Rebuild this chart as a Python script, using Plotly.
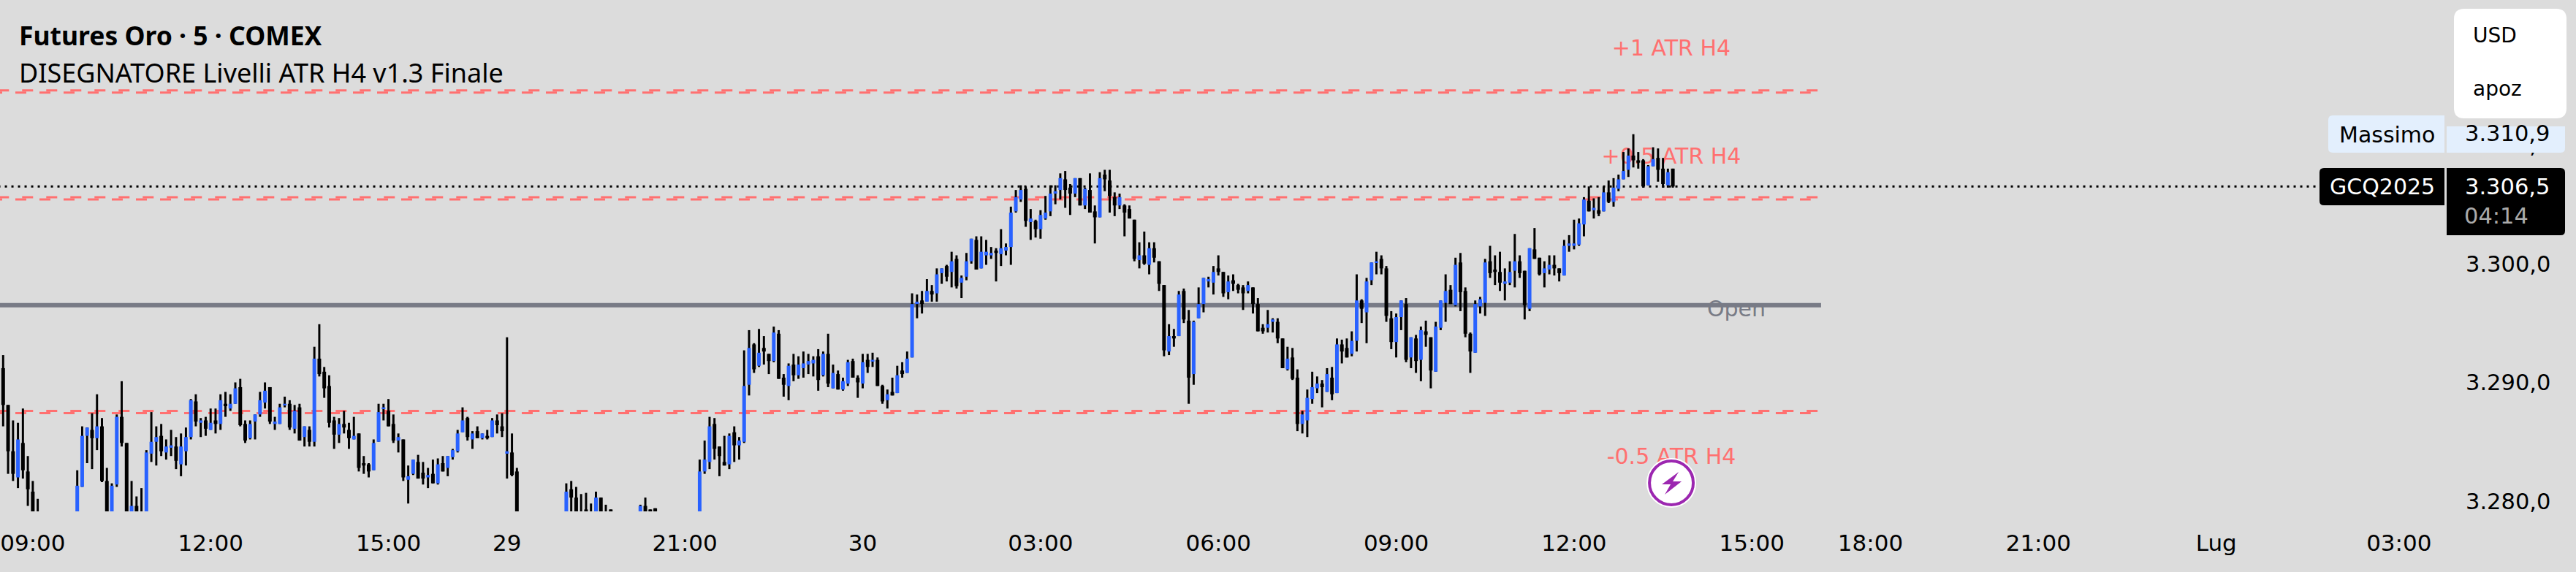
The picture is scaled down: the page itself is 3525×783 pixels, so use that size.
import numpy as np
import plotly.graph_objects as go

NA = None

# 5 min bars, GCQ2025. NA = bar sits below the visible range
bar_high = [
    3292.3,3288.1,3286.8,3286.6,3287.8,3283.8,3281.7,3280.2,NA,NA,
    NA,NA,NA,NA,NA,3282.6,3286.3,3286.2,3287.4,3289.0,
    3287.0,3282.8,3281.5,3287.3,3290.1,3284.9,3281.7,3280.4,3281.1,3284.3,
    3287.5,3286.3,3286.5,3285.2,3286.0,3285.4,3285.7,3286.2,3288.6,3289.0,
    3287.0,3287.1,3287.8,3287.8,3289.0,3289.2,3289.0,3290.0,3290.3,3286.8,
    3286.8,3287.3,3289.2,3290.0,3289.6,3287.1,3288.2,3288.8,3288.5,3288.1,
    3288.2,3286.3,3286.3,3293.0,3294.9,3291.3,3290.6,3287.1,3287.0,3287.6,
    3286.6,3287.1,3285.7,3283.8,3283.2,3285.2,3288.2,3288.2,3288.6,3287.3,
    3285.7,3285.2,3283.0,3283.5,3283.9,3283.3,3282.8,3283.5,3283.6,3283.8,
    3283.8,3284.4,3286.0,3287.9,3287.1,3285.9,3286.3,3285.7,3286.0,3287.0,
    3287.3,3287.4,3293.8,3285.7,3282.8,NA,NA,NA,NA,NA,
    NA,NA,NA,NA,3281.5,3281.7,3281.2,3280.6,3280.7,3279.8,
    3280.8,3280.3,3279.7,3279.3,NA,NA,NA,NA,NA,3279.7,
    3280.3,3279.3,3279.4,NA,NA,NA,NA,NA,NA,NA,
    NA,3283.5,3285.1,3287.1,3287.0,3284.6,3285.5,3285.7,3286.3,3285.4,
    3292.7,3294.4,3293.3,3294.5,3293.9,3292.4,3294.7,3294.4,3290.7,3291.6,
    3292.4,3292.2,3292.6,3292.4,3292.2,3292.8,3292.6,3294.1,3291.5,3291.0,
    3290.4,3291.9,3292.0,3290.6,3292.4,3292.4,3292.5,3292.1,3289.8,3289.4,
    3290.4,3291.4,3291.7,3292.6,3297.5,3297.4,3297.7,3298.7,3298.2,3299.6,
    3299.6,3299.9,3301.0,3300.7,3299.0,3300.9,3302.1,3302.3,3302.3,3302.0,
    3301.4,3301.3,3302.9,3301.7,3304.8,3306.2,3306.6,3306.5,3304.6,3303.7,
    3304.5,3305.7,3306.6,3306.6,3307.6,3307.8,3306.7,3307.2,3307.2,3306.4,
    3307.6,3304.9,3307.7,3307.9,3307.9,3306.0,3305.9,3305.0,3304.9,3303.7,
    3301.8,3302.7,3301.8,3301.8,3300.2,3298.2,3294.9,3294.5,3297.7,3297.9,
    3296.1,3295.2,3298.0,3298.8,3298.9,3299.8,3300.7,3299.3,3299.0,3299.1,
    3298.3,3298.2,3298.5,3298.0,3297.1,3294.9,3296.1,3295.4,3295.4,3293.7,
    3293.0,3292.9,3291.1,3287.6,3289.4,3290.9,3290.5,3290.2,3291.2,3291.3,
    3293.7,3293.6,3293.7,3294.3,3299.1,3297.0,3298.8,3300.1,3301.0,3300.7,
    3299.8,3296.0,3295.8,3296.9,3297.1,3293.8,3294.0,3294.7,3295.2,3293.8,
    3295.1,3296.9,3299.1,3298.2,3300.5,3300.9,3298.0,3294.2,3296.9,3297.2,
    3300.4,3301.5,3300.7,3301.0,3299.6,3300.2,3302.5,3300.7,3299.4,3301.3,
    3303.0,3300.5,3300.2,3300.7,3300.7,3299.6,3302.0,3302.4,3303.7,3303.8,
    3305.6,3306.5,3305.5,3305.6,3306.5,3307.0,3307.2,3307.5,3309.4,3309.7,
    3310.9,3309.4,3308.8,3308.3,3309.8,3309.7,3308.9,3308.0,3308.0,
]
bar_open = [
    3291.2,3288.1,3284.2,3282.0,3284.9,3282.5,3280.8,3278.9,NA,NA,
    NA,NA,NA,NA,NA,3278.5,3281.2,3285.5,3286.0,3285.3,
    3286.3,3281.7,3278.5,3281.4,3287.1,3284.9,3278.5,3279.6,3278.9,3278.5,
    3284.0,3285.0,3285.5,3284.1,3284.5,3284.6,3283.1,3284.2,3285.4,3288.4,
    3286.6,3286.8,3286.0,3286.8,3286.5,3288.2,3287.8,3288.2,3289.6,3286.5,
    3285.3,3286.7,3287.3,3288.3,3289.6,3286.5,3286.5,3288.1,3288.2,3286.1,
    3287.9,3285.4,3286.0,3285.0,3292.0,3290.9,3289.7,3286.8,3285.6,3286.5,
    3286.0,3285.2,3285.7,3283.2,3283.1,3282.6,3285.0,3287.8,3287.6,3286.5,
    3285.1,3285.2,3281.8,3282.3,3283.3,3282.4,3282.0,3282.3,3281.5,3283.2,
    3282.8,3283.7,3284.2,3285.8,3287.0,3285.2,3285.9,3285.3,3285.5,3285.4,
    3286.8,3286.3,3284.0,3284.1,3282.5,NA,NA,NA,NA,NA,
    NA,NA,NA,NA,3278.5,3281.0,3280.3,3278.9,3279.3,3278.9,
    3278.5,3280.3,3278.9,3279.3,NA,NA,NA,NA,NA,3278.5,
    3279.6,3279.3,3279.4,NA,NA,NA,NA,NA,NA,NA,
    NA,3278.5,3282.5,3283.3,3286.5,3284.6,3283.3,3283.1,3285.8,3284.7,
    3285.0,3289.8,3293.2,3291.4,3292.9,3292.4,3291.8,3294.1,3290.4,3289.7,
    3291.5,3290.6,3291.2,3291.5,3291.6,3292.2,3290.6,3292.4,3289.5,3290.7,
    3289.4,3289.9,3291.8,3290.4,3289.9,3291.9,3291.8,3291.9,3289.7,3288.5,
    3289.2,3289.1,3291.0,3290.8,3292.1,3296.6,3296.9,3296.8,3297.7,3297.5,
    3299.2,3299.8,3299.3,3300.4,3298.4,3298.9,3300.2,3302.0,3299.6,3300.7,
    3300.7,3301.1,3300.8,3301.1,3301.4,3304.4,3305.4,3306.3,3303.5,3303.6,
    3302.9,3303.8,3304.4,3305.9,3306.2,3307.1,3306.4,3305.9,3307.2,3304.9,
    3306.2,3304.4,3303.9,3307.5,3307.0,3305.6,3304.9,3304.9,3304.6,3303.7,
    3300.3,3300.7,3299.9,3301.3,3300.2,3298.2,3292.6,3293.9,3293.9,3297.7,
    3295.2,3290.7,3295.4,3296.6,3298.5,3298.4,3299.6,3299.3,3297.6,3298.6,
    3298.2,3298.0,3297.7,3298.0,3296.6,3294.6,3294.6,3295.1,3295.1,3293.7,
    3291.1,3292.1,3290.4,3286.5,3286.8,3288.6,3289.5,3289.9,3289.2,3290.4,
    3289.1,3293.2,3292.9,3292.4,3293.5,3296.9,3295.9,3298.6,3300.1,3300.4,
    3299.6,3295.4,3293.4,3295.5,3296.6,3292.1,3293.7,3291.9,3294.3,3293.8,
    3290.9,3294.6,3296.7,3297.8,3296.5,3300.1,3297.7,3294.1,3292.5,3296.4,
    3296.7,3300.2,3299.5,3299.3,3298.3,3298.4,3299.4,3300.2,3299.4,3296.2,
    3301.2,3300.5,3299.2,3299.5,3299.9,3299.6,3299.0,3301.5,3301.5,3301.6,
    3303.3,3305.3,3304.5,3304.5,3304.4,3306.0,3305.2,3306.3,3307.1,3307.9,
    3309.1,3308.7,3308.7,3306.6,3308.2,3308.9,3308.0,3306.6,3308.0,
]
bar_close = [
    3288.1,3284.2,3282.3,3285.2,3282.6,3281.0,3278.5,3278.5,NA,NA,
    NA,NA,NA,NA,NA,3281.3,3285.5,3286.2,3285.3,3286.3,
    3281.7,3278.5,3281.3,3287.1,3284.9,3278.5,3279.6,3278.5,3278.5,3284.1,
    3285.0,3285.4,3284.2,3284.6,3284.7,3283.4,3284.6,3285.4,3288.5,3286.7,
    3286.8,3286.1,3286.6,3286.5,3288.5,3288.0,3288.2,3289.5,3286.4,3285.1,
    3286.5,3287.3,3288.5,3289.3,3286.7,3286.7,3287.9,3288.2,3286.2,3287.6,
    3285.1,3286.3,3285.0,3292.0,3290.7,3289.5,3286.6,3285.6,3286.5,3286.2,
    3285.3,3285.5,3282.8,3283.0,3282.5,3284.9,3287.5,3287.9,3286.3,3285.1,
    3285.4,3282.0,3282.1,3283.5,3281.9,3281.9,3282.2,3281.5,3283.1,3282.5,
    3283.8,3284.3,3285.7,3286.8,3285.4,3285.7,3285.3,3285.7,3285.3,3286.8,
    3286.4,3285.9,3284.2,3282.2,3278.5,NA,NA,NA,NA,NA,
    NA,NA,NA,NA,3280.8,3280.3,3278.5,3278.5,3278.5,3278.5,
    3280.3,3278.5,3278.5,3278.5,NA,NA,NA,NA,NA,3279.6,
    3278.5,3278.5,3278.5,NA,NA,NA,NA,NA,NA,NA,
    NA,3282.5,3283.5,3286.3,3284.4,3283.8,3283.0,3285.5,3284.7,3285.1,
    3289.7,3292.9,3291.1,3292.5,3292.6,3291.8,3294.2,3290.3,3289.8,3291.4,
    3290.6,3291.5,3291.6,3291.8,3291.9,3290.2,3292.4,3289.9,3290.8,3289.4,
    3290.1,3291.7,3290.4,3290.0,3291.7,3291.3,3291.9,3289.7,3288.4,3289.0,
    3288.9,3290.6,3290.7,3292.0,3296.6,3296.8,3296.6,3297.7,3297.4,3299.1,
    3299.6,3298.9,3300.2,3298.1,3298.8,3300.2,3302.1,3299.5,3301.0,3301.0,
    3300.9,3300.9,3301.3,3301.4,3304.3,3305.6,3306.2,3303.6,3303.8,3302.9,
    3304.1,3304.3,3305.9,3306.1,3307.2,3306.2,3305.9,3307.2,3304.9,3306.3,
    3304.3,3303.9,3307.2,3307.1,3305.7,3304.9,3305.6,3304.3,3303.8,3300.4,
    3300.7,3300.0,3301.3,3300.5,3298.3,3292.7,3293.9,3293.7,3297.4,3295.3,
    3290.4,3295.1,3296.6,3298.8,3298.7,3299.3,3299.3,3297.5,3298.5,3298.3,
    3297.8,3297.5,3298.2,3296.6,3294.3,3294.3,3294.9,3295.3,3293.7,3291.2,
    3292.0,3290.3,3286.5,3287.3,3288.7,3289.6,3289.9,3289.6,3290.7,3289.0,
    3293.2,3292.6,3292.1,3293.5,3296.9,3296.2,3298.5,3300.1,3300.2,3299.6,
    3295.6,3293.4,3295.5,3296.9,3291.9,3293.8,3291.8,3294.4,3294.0,3291.0,
    3294.7,3296.9,3297.7,3296.6,3299.9,3297.6,3294.1,3292.6,3296.6,3297.0,
    3300.1,3299.2,3299.3,3298.4,3298.5,3299.3,3300.2,3299.2,3296.5,3301.3,
    3300.4,3299.1,3299.6,3299.9,3299.6,3299.2,3301.5,3301.7,3301.7,3303.4,
    3305.4,3304.4,3304.7,3304.2,3306.0,3305.2,3306.4,3307.1,3307.8,3309.1,
    3308.7,3308.5,3306.5,3308.2,3308.8,3307.9,3306.7,3307.7,3306.5,
]
bar_low = [
    3286.3,3282.3,3281.7,3281.1,3281.9,3279.6,3278.5,3278.5,NA,NA,
    NA,NA,NA,NA,NA,3278.5,3281.2,3283.2,3282.7,3284.3,
    3281.6,3278.5,3278.5,3281.2,3284.6,3278.5,3278.5,3278.5,3278.5,3278.5,
    3283.3,3283.0,3283.8,3283.5,3283.8,3282.7,3282.1,3283.0,3285.2,3286.3,
    3285.4,3285.5,3286.0,3285.7,3286.0,3287.1,3287.6,3288.2,3286.3,3284.9,
    3285.2,3285.2,3287.1,3287.8,3286.5,3286.0,3286.5,3287.9,3286.0,3285.7,
    3285.1,3284.6,3284.6,3284.6,3290.5,3288.7,3286.2,3284.4,3284.9,3285.7,
    3284.4,3285.2,3282.5,3282.3,3282.0,3282.6,3285.0,3286.8,3286.3,3284.9,
    3284.1,3281.7,3279.8,3282.2,3281.9,3281.4,3281.1,3281.5,3281.4,3282.5,
    3282.1,3283.5,3284.1,3285.8,3285.1,3284.4,3285.3,3285.2,3285.2,3285.4,
    3285.7,3285.4,3281.9,3282.1,3278.5,NA,NA,NA,NA,NA,
    NA,NA,NA,NA,3278.5,3278.5,3278.5,3278.5,3278.5,3278.5,
    3278.5,3278.5,3278.5,3278.5,NA,NA,NA,NA,NA,3278.5,
    3278.5,3278.5,3278.5,NA,NA,NA,NA,NA,NA,NA,
    NA,3278.5,3282.3,3282.7,3283.5,3282.1,3283.0,3282.7,3283.3,3283.5,
    3284.9,3288.9,3290.8,3291.3,3291.5,3290.7,3291.7,3290.3,3288.8,3288.5,
    3290.1,3290.3,3290.4,3290.7,3290.5,3289.3,3290.5,3289.6,3289.5,3289.4,
    3289.3,3289.7,3290.4,3288.7,3289.5,3290.8,3291.3,3289.7,3288.2,3287.8,
    3288.9,3289.1,3290.4,3290.8,3292.1,3295.4,3295.8,3296.8,3296.8,3296.8,
    3298.3,3298.5,3298.0,3297.9,3297.1,3298.6,3300.0,3299.5,3299.6,3299.9,
    3300.4,3298.5,3299.8,3300.7,3299.9,3304.3,3305.2,3303.1,3302.0,3302.2,
    3302.1,3303.7,3304.0,3305.0,3305.4,3304.7,3304.1,3305.6,3304.9,3304.6,
    3304.3,3301.7,3303.9,3306.1,3304.3,3304.0,3304.6,3302.3,3303.8,3300.2,
    3299.6,3299.9,3299.1,3300.1,3297.7,3292.2,3292.3,3293.0,3293.9,3295.0,
    3288.2,3289.8,3295.4,3295.9,3298.0,3297.4,3299.0,3297.2,3297.0,3297.7,
    3297.5,3296.1,3297.5,3295.8,3294.3,3294.1,3294.2,3294.2,3293.3,3291.2,
    3291.0,3290.2,3285.9,3285.7,3285.4,3288.2,3289.1,3287.9,3289.2,3288.5,
    3289.1,3291.6,3292.1,3292.2,3292.6,3295.0,3293.3,3298.2,3299.1,3299.1,
    3295.1,3292.8,3292.1,3294.4,3291.7,3291.2,3290.8,3290.1,3293.0,3289.5,
    3290.9,3294.4,3295.1,3296.6,3296.4,3296.0,3293.8,3290.8,3292.5,3295.8,
    3295.6,3298.8,3298.2,3297.7,3296.9,3298.2,3298.0,3298.8,3295.3,3296.0,
    3300.4,3299.0,3298.0,3299.1,3299.0,3298.5,3299.0,3301.0,3301.2,3301.5,
    3302.3,3304.4,3303.8,3304.0,3304.4,3305.1,3304.8,3306.1,3307.1,3307.3,
    3308.1,3308.0,3306.4,3306.6,3308.2,3306.9,3306.4,3306.4,3306.4,
]

time_ticks = [6, 42, 78, 102, 138, 174, 210, 246, 282, 318, 354, 378, 412, 448, 485]
time_labels = ["09:00", "12:00", "15:00", "29", "21:00", "30", "03:00", "06:00",
               "09:00", "12:00", "15:00", "18:00", "21:00", "Lug", "03:00"]
price_ticks = [3280, 3290, 3300, 3310]
price_labels = ["3.280,0", "3.290,0", "3.300,0", "3.310,0"]

atr_levels = [3314.5, 3305.5, 3287.5]
atr_names = ["+1 ATR H4", "+0.5 ATR H4", "-0.5 ATR H4"]
atr_label_y = [63, 211, 622]
open_level = 3296.5
last_price = 3306.5
session_high = 3310.9

BG = "#dcdcdc"
BLUE = "#2962ff"
RED = "#ff7070"
GREY = "#787b86"
FONT = "DejaVu Sans"
W, H = 3525, 783
PLOT_W, PLOT_H = 3345, 700

o = np.array(bar_open, dtype=float)
h = np.array(bar_high, dtype=float)
l = np.array(bar_low, dtype=float)
c = np.array(bar_close, dtype=float)
idx = np.arange(len(o))
colors = [BLUE if cl >= op else "black" for op, cl in zip(o, c)]


def px(x):
    return x / PLOT_W


def py(y):
    return 1 - y / PLOT_H


def box(x0, y0, x1, y1, fill, r=6, left=True, right=True, bottom=True, top=True):
    # rounded label boxes, given in screen pixels
    tl = r if (left and top) else 0
    tr = r if (right and top) else 0
    br = r if (right and bottom) else 0
    bl = r if (left and bottom) else 0

    def pt(a, b):
        return f"{px(a):.5f},{py(b):.5f}"

    path = (f"M{pt(x0 + tl, y0)} L{pt(x1 - tr, y0)} Q{pt(x1, y0)} {pt(x1, y0 + tr)} "
            f"L{pt(x1, y1 - br)} Q{pt(x1, y1)} {pt(x1 - br, y1)} "
            f"L{pt(x0 + bl, y1)} Q{pt(x0, y1)} {pt(x0, y1 - bl)} "
            f"L{pt(x0, y0 + tl)} Q{pt(x0, y0)} {pt(x0 + tl, y0)} Z")
    return dict(type="path", xref="paper", yref="paper", path=path,
                fillcolor=fill, line=dict(width=0), layer="above")


def text(x, y, s, color="black", size=30, anchor="left", bold=False, family=FONT):
    return dict(xref="paper", yref="paper", x=px(x), y=py(y), text=f"<b>{s}</b>" if bold else s,
                showarrow=False, xanchor=anchor, yanchor="middle", xshift=0,
                font=dict(family=family, size=size, color=color))


fig = go.Figure()
fig.add_trace(go.Bar(x=idx, y=h - l, base=l, width=0.44, marker=dict(color="black", line=dict(width=0))))
fig.add_trace(go.Bar(x=idx, y=np.abs(c - o), base=np.minimum(o, c), width=0.74,
                     marker=dict(color=colors, line=dict(width=0))))

shapes = []
# the level dashes look like two staggered rows, 3px apart
for lvl in atr_levels:
    shapes.append(dict(type="line", x0=-2.41, x1=365.9, y0=lvl - 0.092, y1=lvl - 0.092, layer="below",
                       line=dict(color=RED, width=3, dash="15px,18px")))
    shapes.append(dict(type="line", x0=-1.04, x1=367.3, y0=lvl + 0.092, y1=lvl + 0.092, layer="below",
                       line=dict(color=RED, width=3, dash="15px,18px")))
shapes.append(dict(type="line", x0=-1, x1=368, y0=open_level, y1=open_level, layer="below",
                   line=dict(color=GREY, width=6)))
shapes.append(dict(type="line", x0=-1, x1=469, y0=last_price, y1=last_price, layer="below",
                   line=dict(color="black", width=3, dash="3px,6px")))

# level names stay under the candles, so they are shape labels, not annotations
for name, ly in zip(atr_names, atr_label_y):
    shapes.append(dict(type="rect", xref="paper", yref="paper", x0=px(2137), x1=px(2437),
                       y0=py(ly + 20), y1=py(ly - 20), layer="below", line=dict(width=0),
                       label=dict(text=name, textposition="middle center",
                                  font=dict(family=FONT, size=30, color=RED))))
shapes.append(dict(type="rect", xref="paper", yref="paper", x0=px(2276), x1=px(2476),
                   y0=py(440), y1=py(400), layer="below", line=dict(width=0),
                   label=dict(text="Open", textposition="middle center",
                              font=dict(family=FONT, size=30, color=GREY))))

# right hand tags
shapes.append(box(3186, 158, 3345, 209, "#e3effd", right=False))
shapes.append(box(3348, 173, 3510, 209, "#e3effd", left=False, top=False))
shapes.append(box(3174, 230, 3345, 281, "black", right=False))
shapes.append(box(3348, 230, 3510, 322, "black", left=False))
shapes.append(box(3358, 12, 3512, 162, "white", r=14))

# lightning badge
badge_x, badge_y = 337.7, 3281.54
shapes.append(dict(type="circle", xsizemode="pixel", ysizemode="pixel", xanchor=badge_x, yanchor=badge_y,
                   x0=-32, x1=32, y0=-32, y1=32, fillcolor="white", line=dict(color="white", width=4), layer="above"))
shapes.append(dict(type="circle", xsizemode="pixel", ysizemode="pixel", xanchor=badge_x, yanchor=badge_y,
                   x0=-30, x1=30, y0=-30, y1=30, fillcolor="white", line=dict(color="#9c27b0", width=4), layer="above"))
shapes.append(dict(type="path", xsizemode="pixel", ysizemode="pixel", xanchor=badge_x, yanchor=badge_y,
                   path="M10,15 L-13,-2 L-1,-2 L-9,-16 L14,2 L2,2 Z", fillcolor="#9c27b0", line=dict(width=0),
                   layer="above"))

annotations = [
    text(24, 48, "Futures Oro · 5 · COMEX", size=35.5, bold=True, family="Noto Sans"),
    text(24, 100, "DISEGNATORE Livelli ATR H4 v1.3 Finale", size=36, family="Noto Sans"),
    text(3266, 184, "Massimo", anchor="center"),
    text(3371, 182, "3.310,9", size=30.5),
    text(3260, 255, "GCQ2025", color="white", anchor="center"),
    text(3371, 255, "3.306,5", color="white", size=30.5),
    text(3370, 295, "04:14", color="#aaaaaa", size=30.5),
    text(3382, 48, "USD", size=28),
    text(3382, 122, "apoz", size=28),
]

fig.update_layout(
    width=W, height=H, autosize=False,
    margin=dict(l=0, r=W - PLOT_W, t=0, b=H - PLOT_H, pad=0),
    paper_bgcolor=BG, plot_bgcolor=BG,
    barmode="overlay", showlegend=False,
    font=dict(family=FONT, size=31, color="black"),
    shapes=shapes, annotations=annotations,
    xaxis=dict(range=[-0.636, 494.2], tickmode="array", tickvals=time_ticks, ticktext=time_labels,
               showgrid=False, zeroline=False, showline=False, ticks="", ticklabelstandoff=22,
               tickfont=dict(family=FONT, size=31, color="black")),
    yaxis=dict(range=[3279.14, 3322.2], side="right", tickmode="array", tickvals=price_ticks, ticktext=price_labels,
               showgrid=False, zeroline=False, showline=False, ticks="", ticklabelstandoff=28,
               tickfont=dict(family=FONT, size=30.5, color="black")),
)

# no page margin, the figure fills the whole window
fig.write_html("out.html", config={"displayModeBar": False},
               post_script="document.body.style.margin='0';document.body.style.background='#dcdcdc';")
